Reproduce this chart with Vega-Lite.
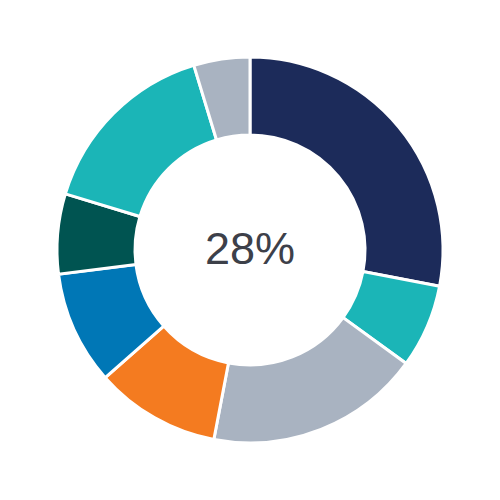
{
  "$schema": "https://vega.github.io/schema/vega-lite/v6.json",
  "width": 500,
  "height": 500,
  "autosize": {"type": "fit", "contains": "padding"},
  "padding": 0,
  "background": "white",
  "view": {"stroke": null},
  "layer": [
    {
      "data": {"values": [
        {"seg": "A", "order": 1, "value": 28},
        {"seg": "B", "order": 2, "value": 7},
        {"seg": "C", "order": 3, "value": 18},
        {"seg": "D", "order": 4, "value": 10.5},
        {"seg": "E", "order": 5, "value": 9.5},
        {"seg": "F", "order": 6, "value": 6.7},
        {"seg": "G", "order": 7, "value": 15.6},
        {"seg": "H", "order": 8, "value": 4.7}
      ]},
      "mark": {"type": "arc", "innerRadius": 115, "outerRadius": 193, "stroke": "white", "strokeWidth": 3},
      "encoding": {
        "theta": {"field": "value", "type": "quantitative", "stack": true},
        "order": {"field": "order", "type": "quantitative"},
        "color": {
          "field": "seg", "type": "nominal", "legend": null,
          "scale": {
            "domain": ["A", "B", "C", "D", "E", "F", "G", "H"],
            "range": ["#1c2b5a", "#1bb5b7", "#a9b3c1", "#f47b20", "#0077b6", "#005451", "#1bb5b7", "#a9b3c1"]
          }
        }
      }
    },
    {
      "data": {"values": [{"label": "28%"}]},
      "mark": {"type": "text", "fontSize": 45, "font": "Liberation Sans", "color": "#3d4049", "align": "center", "baseline": "middle"},
      "encoding": {"text": {"field": "label"}}
    }
  ]
}
